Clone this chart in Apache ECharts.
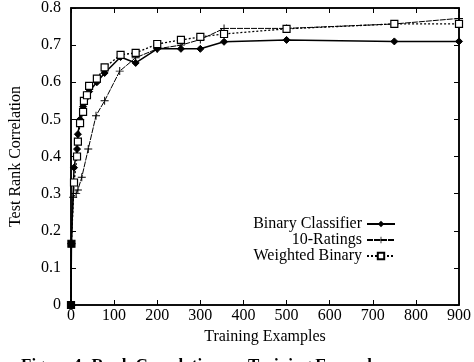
<!DOCTYPE html>
<html>
<head>
<meta charset="utf-8">
<script src="https://cdn.jsdelivr.net/npm/echarts@6/dist/echarts.min.js"></script>
<style>
html,body{margin:0;padding:0;background:#fff;}
#c{width:474px;height:362px;}
</style>
</head>
<body>
<div id="c"></div>
<script>
// Data
var xTicks = [0, 100, 200, 300, 400, 500, 600, 700, 800, 900];
var yTicks = [0, 0.1, 0.2, 0.3, 0.4, 0.5, 0.6, 0.7, 0.8];

var binaryX = [0, 1, 7, 14, 16, 21, 28, 30, 37, 42, 60, 78, 115, 150, 200, 255, 300, 355, 500, 750, 900];
var binaryY = [0, 0.165, 0.37, 0.42, 0.46, 0.50, 0.535, 0.55, 0.56, 0.575, 0.60, 0.625, 0.668, 0.652, 0.69, 0.69, 0.69, 0.709, 0.714, 0.71, 0.71];

var ratingsX = [0, 1, 5, 12, 16, 25, 40, 58, 78, 113, 150, 200, 255, 300, 355, 500, 750, 900];
var ratingsY = [0, 0.165, 0.29, 0.30, 0.31, 0.344, 0.42, 0.51, 0.55, 0.63, 0.666, 0.69, 0.70, 0.715, 0.745, 0.745, 0.757, 0.772];

var weightedX = [0, 1, 7, 14, 16, 21, 28, 30, 37, 42, 60, 78, 115, 150, 200, 255, 300, 355, 500, 750, 900];
var weightedY = [0, 0.165, 0.33, 0.40, 0.44, 0.49, 0.52, 0.55, 0.565, 0.59, 0.61, 0.64, 0.674, 0.679, 0.703, 0.714, 0.722, 0.73, 0.744, 0.757, 0.757];

var seriesNames = ['Binary Classifier', '10-Ratings', 'Weighted Binary'];
var captionText = 'Figure 4: Rank Correlation vs. Training Examples';

function pairs(xs, ys){ return xs.map(function(x,i){ return [x, ys[i]]; }); }

var font = 'Liberation Serif';
var chart = echarts.init(document.getElementById('c'), null, {renderer:'canvas'});
function axisLine(){ return {show:true, onZero:false, lineStyle:{color:'#000', width:1.5}}; }
function tick(){ return {show:true, inside:true, length:5, lineStyle:{color:'#000', width:1}}; }

// overlapping markers at the start look filled in the print
var weightedData = pairs(weightedX, weightedY).map(function(p, i){
  return i < 2 ? {value:p, itemStyle:{color:'#000'}} : p;
});

var option = {
  animation:false,
  backgroundColor:'#fff',
  textStyle:{fontFamily:font, color:'#000'},
  grid:{left:71, right:13, top:7, bottom:57, show:true, borderColor:'#000', borderWidth:1.5, backgroundColor:'transparent'},
  legend:{
    right:73, top:211, orient:'vertical', align:'right',
    itemWidth:28, itemHeight:8, itemGap:0,
    textStyle:{fontFamily:font, fontSize:16, color:'#000', padding:[0,0,0,0]},
    data:seriesNames
  },
  xAxis:[{
    type:'value', min:0, max:900, interval:100,
    name:'Training Examples', nameLocation:'middle', nameGap:24,
    nameTextStyle:{fontFamily:font, fontSize:16, color:'#000'},
    axisLine:axisLine(), axisTick:tick(),
    axisLabel:{fontFamily:font, fontSize:16, color:'#000', margin:3},
    splitLine:{show:false}
  },{
    type:'value', min:0, max:900, interval:100, position:'top',
    axisLine:axisLine(), axisTick:tick(),
    axisLabel:{show:false}, splitLine:{show:false}
  }],
  yAxis:[{
    type:'value', min:0, max:0.8, interval:0.1,
    name:'Test Rank Correlation', nameLocation:'middle', nameGap:47,
    nameTextStyle:{fontFamily:font, fontSize:16, color:'#000'},
    axisLine:axisLine(), axisTick:tick(),
    axisLabel:{fontFamily:font, fontSize:16, color:'#000', margin:10,
      formatter:function(v){ return v === 0 ? '0' : v.toFixed(1); }},
    splitLine:{show:false}
  },{
    type:'value', min:0, max:0.8, interval:0.1, position:'right',
    axisLine:axisLine(), axisTick:tick(),
    axisLabel:{show:false}, splitLine:{show:false}
  }],
  series:[{
    name:seriesNames[0], type:'line', data:pairs(binaryX, binaryY),
    symbol:'diamond', symbolSize:7,
    lineStyle:{color:'#000', width:1.5, type:'solid'},
    itemStyle:{color:'#000', borderColor:'#000'}
  },{
    name:seriesNames[1], type:'line', data:pairs(ratingsX, ratingsY),
    symbol:'path://M0,4.4H10V5.6H0Z M4.4,0H5.6V10H4.4Z', symbolSize:8,
    lineStyle:{color:'#000', width:1, type:[6,1]},
    itemStyle:{color:'#000', borderWidth:0}
  },{
    name:seriesNames[2], type:'line', data:weightedData,
    symbol:'rect', symbolSize:7,
    lineStyle:{color:'#000', width:1.3, type:[2,2]},
    itemStyle:{color:'#fff', borderColor:'#000', borderWidth:1.2}
  },{
    name:'_frame', type:'line', xAxisIndex:1, yAxisIndex:1,
    data:pairs(binaryX, binaryY), symbol:'none', silent:true,
    lineStyle:{opacity:0}, tooltip:{show:false}
  }],
  graphic:[{
    type:'text', left:21, top:357,
    style:{text:captionText, font:'bold 17px "Liberation Serif"', fill:'#000'}
  }]
};
chart.setOption(option);
</script>
</body>
</html>
